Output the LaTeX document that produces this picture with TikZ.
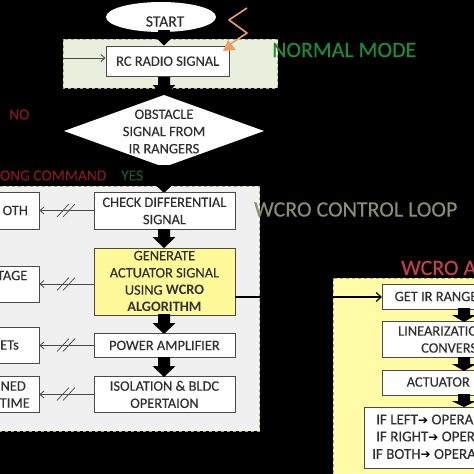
\documentclass[tikz,border=0pt]{standalone}
\usepackage{fontspec}
\setmainfont{Carlito}
\newfontfamily\plainfont[FakeBold=0.25]{Carlito}
\newfontfamily\arrowfont{DejaVu Sans}
\usetikzlibrary{arrows.meta}
\definecolor{tc}{HTML}{303030}
\definecolor{bd}{HTML}{4A4A4A}
\definecolor{oran}{RGB}{235,160,95}
\definecolor{genfill}{RGB}{255,249,154}
\definecolor{pangreen}{RGB}{233,239,221}
\definecolor{pangray}{RGB}{240,240,240}
\definecolor{panyel}{RGB}{255,251,166}
\definecolor{dash1}{RGB}{170,170,120}
\definecolor{dash2}{RGB}{170,170,90}
\definecolor{dred}{RGB}{130,25,32}
\definecolor{dgreen}{RGB}{30,85,40}
\definecolor{mgreen}{RGB}{30,140,50}
\definecolor{olive}{RGB}{140,140,110}
\definecolor{lred}{RGB}{195,65,75}
\tikzset{
 x=1pt,y=-1pt,
 boxn/.style={draw=bd,line width=.9pt,fill=white,text=tc,align=center,inner sep=0pt,font=\fontsize{14.4}{17.2}\selectfont\plainfont},
 lab/.style={inner sep=0pt,text=tc,font=\fontsize{14.4}{17.2}\selectfont\plainfont},
 small/.style={inner sep=0pt,font=\fontsize{15.4}{18}\selectfont\plainfont},
 big/.style={inner sep=0pt,font=\fontsize{22}{25}\selectfont\plainfont},
 iftext/.style={lab,anchor=west,font=\fontsize{15}{17}\selectfont\plainfont},
 thin arrow/.style={draw=bd,line width=.8pt,-{Straight Barb[length=4pt,width=7pt]}},
 slashes/.style={draw=bd,line width=.7pt},
 panel/.style={dashed,line width=.4pt},
}
\newcommand{\bx}[7][white]{\node[boxn,fill=#1,minimum width=#5-#3,minimum height=#6-#4,anchor=north west] (#2) at (#3,#4) {#7};}
\newcommand{\fatarrow}[3]{\fill[black] (#1-6,#2) -- (#1+6,#2) -- (#1+6,#3-11) -- (#1+11.5,#3-11) -- (#1,#3) -- (#1-11.5,#3-11) -- (#1-6,#3-11) -- cycle;}
\newcommand{\arr}{{\arrowfont\fontsize{12}{13}\selectfont\color{black}➔}}
\begin{document}
\begin{tikzpicture}
\useasboundingbox (0,0) rectangle (474,474);
\clip (0,0) rectangle (474,474);
\fill[black] (0,0) rectangle (474,474);
% panels
\fill[pangreen] (63,39) rectangle (277.5,88);
\fill[pangray] (-2,186) rectangle (259.5,431);
\fill[panyel] (333,278) rectangle (476,476);
\draw[panel,draw=dash1] (63,39) rectangle (277.5,88);
\draw[panel,draw=dash1] (-2,186) rectangle (259.5,431);
\draw[panel,draw=dash2] (333,278) rectangle (476,476);
% shapes
\path[fill=white] (161,17) ellipse [x radius=55,y radius=15];
\node[lab,font=\fontsize{15.6}{18}\selectfont\plainfont] (start) at (165,21.5) {START};
\fatarrow{164}{30}{45.5}
\fatarrow{164}{76}{96}
\fill[white] (64,131) -- (164,95) -- (264,131) -- (164,167) -- cycle;
\node[lab,align=center] (obst) at (164,131.5) {OBSTACLE\\SIGNAL FROM\\IR RANGERS};
\fatarrow{164}{165}{193}
\bx{rc}{105.5}{45.5}{229}{76}{RC RADIO SIGNAL}
\bx{chk}{93.5}{192}{234.5}{229}{CHECK DIFFERENTIAL\\SIGNAL}
\bx[genfill]{gen}{93.5}{247.5}{234.5}{314.5}{GENERATE\\ACTUATOR SIGNAL\\USING {\normalfont\bfseries WCRO}\\{\normalfont\bfseries ALGORITHM}}
\bx{pow}{93.5}{333}{234.5}{357}{POWER AMPLIFIER}
\bx{iso}{93.5}{376}{234.5}{412}{ISOLATION \& BLDC\\OPERTAION}
\fatarrow{164}{229}{248}
\fatarrow{164}{314}{334}
\fatarrow{164}{357}{377}
% left boxes
\bx{l1}{-4}{192}{38.5}{229}{}
\bx{l2}{-4}{265.5}{38.5}{302}{}
\bx{l3}{-4}{327}{38.5}{363}{}
\bx{l4}{-4}{376}{38.5}{412}{}
\node[lab,anchor=east] at (28,210.5) {OTH};
\node[lab,anchor=east] at (27.5,275.5) {TAGE};
\node[lab,anchor=east] at (19,345) {ETs};
\node[lab,anchor=east] at (26,386) {NED};
\node[lab,anchor=east] at (30,403) {TIME};
% connectors
\coordinate (in) at (63,58);
\draw[thin arrow] (in) -- (rc.west |- in);
\draw[thin arrow] (chk.west |- 0,210.5) -- (l1.east |- 0,210.5);
\draw[thin arrow] (gen.west |- 0,284) -- (l2.east |- 0,284);
\draw[thin arrow] (pow) -- (l3);
\draw[thin arrow] (iso) -- (l4);
\foreach \y in {210.5,284,345,394}{
 \draw[slashes] (57,\y+6.5) -- (69,\y-6.5);
 \draw[slashes] (63,\y+6.5) -- (75,\y-6.5);
}
% algorithm panel
\bx{get}{382}{284}{490}{308.5}{}
\bx{lin}{382}{321}{490}{357}{}
\bx{act}{382}{370}{490}{394.5}{}
\bx{ifb}{363.5}{406.5}{490}{468}{}
\node[lab,anchor=west] at (394.5,296.5) {GET IR RANGE};
\node[lab,anchor=west] at (398,331) {LINEARIZATIO};
\node[lab,anchor=west] at (421,348) {CONVERS};
\node[lab,anchor=west] at (406.5,382) {ACTUATOR};
\node[iftext] at (376,419.5) {IF LEFT\arr\ OPERA};
\node[iftext] at (376,436.5) {IF RIGHT\arr\ OPER};
\node[iftext] at (372,454) {IF BOTH\arr\ OPERA};
\fill[black] (458,308) -- (470,308) -- (470,315) -- (476,315) -- (464,322) -- (452,315) -- (458,315) -- cycle;
\fill[black] (458,357) -- (470,357) -- (470,364) -- (476,364) -- (464,371) -- (452,364) -- (458,364) -- cycle;
\fill[black] (458,394) -- (470,394) -- (470,401) -- (476,401) -- (464,407) -- (452,401) -- (458,401) -- cycle;
\draw[black,line width=1.2pt,-{Straight Barb[length=5pt,width=9pt]}] (gen.east |- 0,297) -- (get.west |- 0,297);
% texts
\node[small,text=dred,anchor=west] (no) at (9,114.5) {NO};
\node[small,text=dred,anchor=east] (cmd) at (106.5,175.5) {ONG COMMAND};
\node[small,text=dgreen,anchor=west] (yes) at (121,175.5) {YES};
\node[big,text=mgreen,anchor=west] (nm) at (272,50) {NORMAL MODE};
\node[big,text=olive,anchor=west] (wc) at (254,209.5) {WCRO CONTROL LOOP};
\node[big,text=lred,anchor=west] (wa) at (401,268) {WCRO A};
% lightning
\draw[line width=1.6pt,draw=oran,line join=round] (247,8) -- (229,20) -- (247,33) -- (229,45);
\fill[oran] (223,51) -- (228,40) -- (236,50) -- cycle;
\end{tikzpicture}
\end{document}
